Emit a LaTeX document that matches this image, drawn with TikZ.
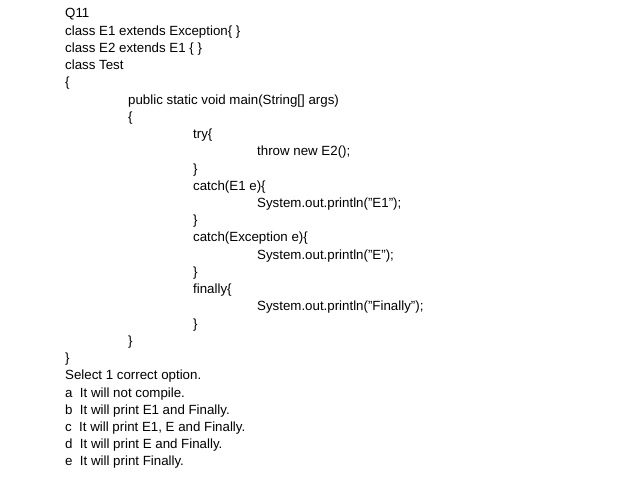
\documentclass[tikz,border=0pt]{standalone}
\usepackage{fontspec}
\setmainfont[Ligatures=ResetAll]{Liberation Sans}
\begin{document}
\begin{tikzpicture}[x=1pt,y=-1pt,t/.style={anchor=base west,inner sep=0pt,font=\fontsize{13.3}{16}\selectfont}]
\useasboundingbox (0,0) rectangle (638,478);
\def\L#1#2#3#4{\node[t] (#1) at (#2,{18+17.23*#3}) {#4};}
\L{l0}{65}{0}{Q11}
\L{l1}{65}{1}{class E1 extends Exception\{ \}}
\L{l2}{65}{2}{class E2 extends E1 \{ \}}
\L{l3}{65}{3}{class Test}
\L{l4}{65}{4}{\{}
\L{l5}{128}{5}{public static void main(String[] args)}
\L{l6}{128}{6}{\{}
\L{l7}{193}{7}{try\{}
\L{l8}{257}{8}{throw new E2();}
\L{l9}{193}{9}{\}}
\L{l10}{193}{10}{catch(E1 e)\{}
\L{l11}{257}{11}{System.out.println(\symbol{34}E1\symbol{34});}
\L{l12}{193}{12}{\}}
\L{l13}{193}{13}{catch(Exception e)\{}
\L{l14}{257}{14}{System.out.println(\symbol{34}E\symbol{34});}
\L{l15}{193}{15}{\}}
\L{l16}{193}{16}{finally\{}
\L{l17}{257}{17}{System.out.println(\symbol{34}Finally\symbol{34});}
\L{l18}{193}{18}{\}}
\L{l19}{128}{19}{\}}
\L{l20}{65}{20}{\}}
\L{l21}{65}{21}{Select 1 correct option.}
\L{l22}{65}{22}{a\ \ It will not compile.}
\L{l23}{65}{23}{b\ \ It will print E1 and Finally.}
\L{l24}{65}{24}{c\ \ It will print E1, E and Finally.}
\L{l25}{65}{25}{d\ \ It will print E and Finally.}
\L{l26}{65}{26}{e\ \ It will print Finally.}
\end{tikzpicture}
\end{document}
